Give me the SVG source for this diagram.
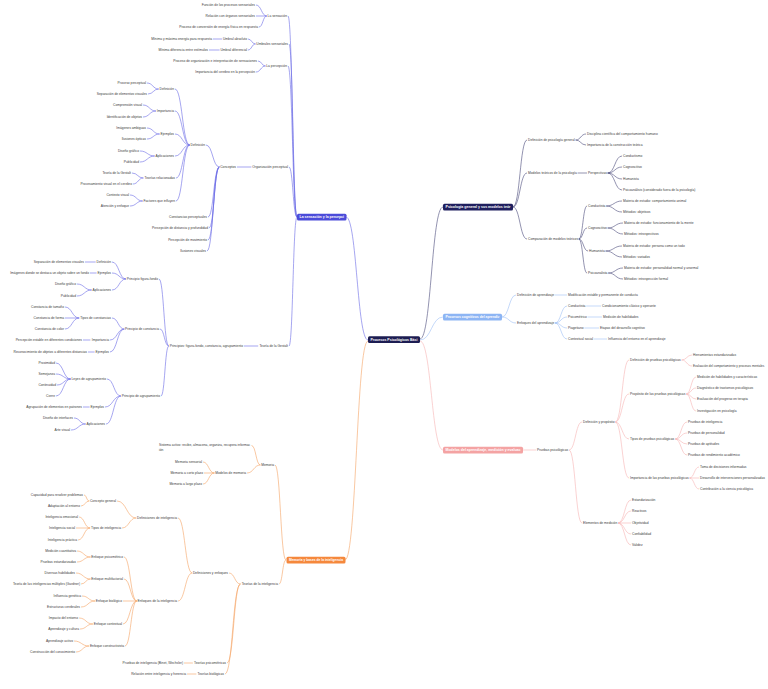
<svg xmlns="http://www.w3.org/2000/svg" width="768" height="689" viewBox="0 0 768 689">
<style>
.t{font-family:"Liberation Sans",Arial,sans-serif;font-size:3.3px;fill:#3a3a3a}
.e{text-anchor:end}
.sm{font-size:3.05px}
.bt{font-family:"Liberation Sans",Arial,sans-serif;font-size:3.5px;font-weight:bold;fill:#ffffff}
.cb{stroke:#6a6ae6}.cn{stroke:#4a4a7a}.cl{stroke:#9dc0f5}.cp{stroke:#f7b3b3}.co{stroke:#f5a263}
</style>
<rect width="768" height="689" fill="#ffffff"/>
<g id="connectors" fill="none" stroke-width="0.6">
<g class="cb">
<path d="M368 340C357 340 357 217 346 217"/>
<path d="M297 217C292.5 217 292.5 16 288 16"/>
<path d="M297 217C293 217 293 44 289 44"/>
<path d="M297 217C292.5 217 292.5 66 288 66"/>
<path d="M297 217C293 217 293 167 289 167"/>
<path d="M297 217C293 217 293 346 289 346"/>
<path d="M266.8 16C261.4 16 261.4 5 256 5"/>
<path d="M266.8 16H256"/>
<path d="M266.8 16C262.9 16 262.9 27 259 27"/>
<path d="M255.5 44C251.75 44 251.75 39 248 39"/>
<path d="M255.5 44C251.75 44 251.75 50 248 50"/>
<path d="M222.2 39H213"/>
<path d="M219.6 50H209"/>
<path d="M265.5 66C261.75 66 261.75 61 258 61"/>
<path d="M265.5 66C260.75 66 260.75 72 256 72"/>
<path d="M251.4 167H237"/>
<path d="M219.4 167C212.7 167 212.7 145 206 145"/>
<path d="M219.4 167C213.7 167 213.7 217 208 217"/>
<path d="M219.4 167C214.2 167 214.2 228 209 228"/>
<path d="M219.4 167C213.7 167 213.7 240 208 240"/>
<path d="M219.4 167C213.2 167 213.2 251 207 251"/>
<path d="M189.7 145C182.35 145 182.35 89 175 89"/>
<path d="M189.7 145C182.35 145 182.35 111 175 111"/>
<path d="M189.7 145C182.35 145 182.35 134 175 134"/>
<path d="M189.7 145C182.35 145 182.35 156 175 156"/>
<path d="M189.7 145C182.85 145 182.85 178 176 178"/>
<path d="M189.7 145C182.85 145 182.85 201 176 201"/>
<path d="M158.7 89C152.85 89 152.85 83 147 83"/>
<path d="M158.7 89C153.35 89 153.35 94 148 94"/>
<path d="M156 111C149.5 111 149.5 105 143 105"/>
<path d="M156 111C149.5 111 149.5 117 143 117"/>
<path d="M159.6 134C153.3 134 153.3 128 147 128"/>
<path d="M159.6 134C153.3 134 153.3 139 147 139"/>
<path d="M154.7 156C147.35 156 147.35 151 140 151"/>
<path d="M154.7 156C147.35 156 147.35 162 140 162"/>
<path d="M143.4 178C137.7 178 137.7 173 132 173"/>
<path d="M143.4 178C138.2 178 138.2 184 133 184"/>
<path d="M142.7 201C136.35 201 136.35 195 130 195"/>
<path d="M142.7 201C136.35 201 136.35 206 130 206"/>
<path d="M258.2 346H244"/>
<path d="M168.8 346C163.9 346 163.9 279 159 279"/>
<path d="M168.8 346C164.4 346 164.4 329 160 329"/>
<path d="M168.8 346C164.9 346 164.9 396 161 396"/>
<path d="M126 279C119 279 119 262 112 262"/>
<path d="M126 279C119 279 119 273 112 273"/>
<path d="M126 279C119 279 119 290 112 290"/>
<path d="M95.7 262H85"/>
<path d="M96.6 273H90"/>
<path d="M91.7 290C84.35 290 84.35 284 77 284"/>
<path d="M91.7 290C84.35 290 84.35 296 77 296"/>
<path d="M124.3 329C118.15 329 118.15 318 112 318"/>
<path d="M124.3 329C117.15 329 117.15 340 110 340"/>
<path d="M124.3 329C117.15 329 117.15 352 110 352"/>
<path d="M79.2 318C72.1 318 72.1 307 65 307"/>
<path d="M79.2 318H65"/>
<path d="M79.2 318C72.1 318 72.1 329 65 329"/>
<path d="M90.4 340H83"/>
<path d="M94.6 352H88"/>
<path d="M120.9 396C113.95 396 113.95 379 107 379"/>
<path d="M120.9 396C112.95 396 112.95 407 105 407"/>
<path d="M120.9 396C113.45 396 113.45 424 106 424"/>
<path d="M70.7 379C63.35 379 63.35 363 56 363"/>
<path d="M70.7 379C63.35 379 63.35 374 56 374"/>
<path d="M70.7 379C63.85 379 63.85 385 57 385"/>
<path d="M70.7 379C63.35 379 63.35 396 56 396"/>
<path d="M89.6 407H83"/>
<path d="M85.7 424C79.85 424 79.85 418 74 418"/>
<path d="M85.7 424C78.35 424 78.35 430 71 430"/>
</g>
<g class="co">
<path d="M368 341C356.5 341 356.5 560 345 560"/>
<path d="M286 560C280.5 560 280.5 465 275 465"/>
<path d="M286 560C282.5 560 282.5 584 279 584"/>
<path d="M260.4 465C255.95 465 255.95 445.5 251.5 445.5"/>
<path d="M260.4 465C253.7 465 253.7 473 247 473"/>
<path d="M214.4 473C208.7 473 208.7 462 203 462"/>
<path d="M214.4 473H204"/>
<path d="M214.4 473C208.7 473 208.7 484 203 484"/>
<path d="M240.5 584C234.75 584 234.75 573 229 573"/>
<path d="M240.5 584C233.75 584 233.75 663 227 663"/>
<path d="M240.5 584C232.75 584 232.75 674 225 674"/>
<path d="M192.2 573C185.1 573 185.1 518 178 518"/>
<path d="M192.2 573C185.1 573 185.1 601 178 601"/>
<path d="M192.9 663H184"/>
<path d="M196.4 674H187"/>
<path d="M136.2 518C126.6 518 126.6 501 117 501"/>
<path d="M136.2 518C129.1 518 129.1 528 122 528"/>
<path d="M89.2 501C86.6 501 86.6 495 84 495"/>
<path d="M89.2 501C85.1 501 85.1 506 81 506"/>
<path d="M90.1 528C84.55 528 84.55 517 79 517"/>
<path d="M90.1 528H76"/>
<path d="M90.1 528C84.05 528 84.05 540 78 540"/>
<path d="M136.8 601C130.4 601 130.4 557 124 557"/>
<path d="M136.8 601C130.4 601 130.4 579 124 579"/>
<path d="M136.8 601H123"/>
<path d="M136.8 601C129.9 601 129.9 624 123 624"/>
<path d="M136.8 601C130.9 601 130.9 646 125 646"/>
<path d="M90.5 557C83.75 557 83.75 551 77 551"/>
<path d="M90.5 557C83.75 557 83.75 562 77 562"/>
<path d="M90.5 579C83.25 579 83.25 573 76 573"/>
<path d="M90.5 579C85.75 579 85.75 584 81 584"/>
<path d="M95 601C88.5 601 88.5 596 82 596"/>
<path d="M95 601C88 601 88 607 81 607"/>
<path d="M92.9 624C85.95 624 85.95 618 79 618"/>
<path d="M92.9 624C86.45 624 86.45 629 80 629"/>
<path d="M89.1 646C81.55 646 81.55 641 74 641"/>
<path d="M89.1 646C82.55 646 82.55 652 76 652"/>
</g>
<g class="cn">
<path d="M420 339C431.5 339 431.5 207 443 207"/>
<path d="M513 207C520 207 520 140 527 140"/>
<path d="M513 207C520 207 520 173 527 173"/>
<path d="M513 207C520 207 520 239 527 239"/>
<path d="M575.6 140C580.8 140 580.8 134 586 134"/>
<path d="M575.6 140C580.8 140 580.8 145 586 145"/>
<path d="M577.6 173H587"/>
<path d="M607.7 173C614.85 173 614.85 156 622 156"/>
<path d="M607.7 173C614.85 173 614.85 167 622 167"/>
<path d="M607.7 173C614.85 173 614.85 179 622 179"/>
<path d="M607.7 173C614.85 173 614.85 190 622 190"/>
<path d="M578.8 239C582.9 239 582.9 206 587 206"/>
<path d="M578.8 239C582.9 239 582.9 228 587 228"/>
<path d="M578.8 239C583.4 239 583.4 251 588 251"/>
<path d="M578.8 239C582.9 239 582.9 273 587 273"/>
<path d="M606.2 206C614.1 206 614.1 201 622 201"/>
<path d="M606.2 206C614.1 206 614.1 212 622 212"/>
<path d="M607.7 228C615.35 228 615.35 223 623 223"/>
<path d="M607.7 228C615.35 228 615.35 234 623 234"/>
<path d="M605.6 251C613.8 251 613.8 246 622 246"/>
<path d="M605.6 251C613.8 251 613.8 257 622 257"/>
<path d="M608.2 273C615.6 273 615.6 268 623 268"/>
<path d="M608.2 273C615.6 273 615.6 279 623 279"/>
</g>
<g class="cl">
<path d="M420 340C431.5 340 431.5 317 443 317"/>
<path d="M502 317C509 317 509 295 516 295"/>
<path d="M502 317C509 317 509 323 516 323"/>
<path d="M554.8 295H567"/>
<path d="M555 323C561 323 561 306 567 306"/>
<path d="M555 323C561 323 561 317 567 317"/>
<path d="M555 323C561 323 561 328 567 328"/>
<path d="M555 323C561 323 561 339 567 339"/>
<path d="M586.2 306H601"/>
<path d="M587.7 317H602"/>
<path d="M584.4 328H599"/>
<path d="M593.9 339H607"/>
</g>
<g class="cp">
<path d="M420 341C431.5 341 431.5 450 443 450"/>
<path d="M523 450H536"/>
<path d="M569 450C575.5 450 575.5 422 582 422"/>
<path d="M569 450C575.5 450 575.5 523 582 523"/>
<path d="M615.3 422C622.15 422 622.15 360 629 360"/>
<path d="M615.3 422C622.15 422 622.15 394 629 394"/>
<path d="M615.3 422C622.15 422 622.15 439 629 439"/>
<path d="M615.3 422C622.15 422 622.15 478 629 478"/>
<path d="M681.6 360C686.8 360 686.8 355 692 355"/>
<path d="M681.6 360C686.8 360 686.8 366 692 366"/>
<path d="M686.2 394C691.1 394 691.1 377 696 377"/>
<path d="M686.2 394C691.1 394 691.1 388 696 388"/>
<path d="M686.2 394C691.1 394 691.1 399 696 399"/>
<path d="M686.2 394C691.1 394 691.1 411 696 411"/>
<path d="M675.2 439C681.1 439 681.1 422 687 422"/>
<path d="M675.2 439C681.1 439 681.1 433 687 433"/>
<path d="M675.2 439C681.1 439 681.1 444 687 444"/>
<path d="M675.2 439C681.1 439 681.1 455 687 455"/>
<path d="M689.5 478C694.25 478 694.25 467 699 467"/>
<path d="M689.5 478H699"/>
<path d="M689.5 478C694.25 478 694.25 489 699 489"/>
<path d="M618.1 523C624.55 523 624.55 500 631 500"/>
<path d="M618.1 523C624.55 523 624.55 511 631 511"/>
<path d="M618.1 523H631"/>
<path d="M618.1 523C624.55 523 624.55 534 631 534"/>
<path d="M618.1 523C624.55 523 624.55 545 631 545"/>
</g>
</g>
<g id="root"><rect x="368" y="336.3" width="52" height="6.6" rx="1.5" fill="#1d1d52"/><text class="bt" x="370.5" y="340.9" textLength="47" lengthAdjust="spacingAndGlyphs">Procesos Psicológicos Bási</text></g>
<g id="b-main"><rect x="297" y="213.8" width="49.5" height="6.6" rx="1.5" fill="#4b4bd9"/><text class="bt" x="299.5" y="218.4" textLength="44.5" lengthAdjust="spacingAndGlyphs">La sensación y la percepci</text></g>
<g id="n-main"><rect x="443" y="203.8" width="70" height="6.6" rx="1.5" fill="#1f1f5e"/><text class="bt" x="445.5" y="208.4" textLength="65" lengthAdjust="spacingAndGlyphs">Psicología general y sus modelos teór</text></g>
<g id="l-main"><rect x="443" y="313.8" width="59" height="6.6" rx="1.5" fill="#8db5f4"/><text class="bt" x="445.5" y="318.4" textLength="54" lengthAdjust="spacingAndGlyphs">Procesos cognitivos del aprendiz</text></g>
<g id="p-main"><rect x="443" y="446.8" width="80" height="6.6" rx="1.5" fill="#f4a3a3"/><text class="bt" x="445.5" y="451.4" textLength="75" lengthAdjust="spacingAndGlyphs">Modelos del aprendizaje, medición y evaluac</text></g>
<g id="o-main"><rect x="286.5" y="556.8" width="59" height="6.6" rx="1.5" fill="#f5883c"/><text class="bt" x="289" y="561.4" textLength="54" lengthAdjust="spacingAndGlyphs">Memoria y bases de la inteligencia</text></g>
<g id="b1"><text class="t e" x="287" y="17.15">La sensación</text></g>
<g id="b2"><text class="t e" x="288" y="45.15">Umbrales sensoriales</text></g>
<g id="b3"><text class="t e" x="287" y="67.15">La percepción</text></g>
<g id="b4"><text class="t e" x="288" y="168.15">Organización perceptual</text></g>
<g id="b5"><text class="t e" x="288" y="347.15">Teoría de la Gestalt</text></g>
<g id="b1a"><text class="t e" x="255" y="6.15">Función de los procesos sensoriales</text></g>
<g id="b1b"><text class="t e" x="255" y="17.15">Relación con órganos sensoriales</text></g>
<g id="b1c"><text class="t e" x="258" y="28.15">Proceso de conversión de energía física en respuesta</text></g>
<g id="b2a"><text class="t e" x="247" y="40.15">Umbral absoluto</text></g>
<g id="b2a1"><text class="t e" x="212" y="40.15">Mínima y máxima energía para respuesta</text></g>
<g id="b2b"><text class="t e" x="247" y="51.15">Umbral diferencial</text></g>
<g id="b2b1"><text class="t e" x="208" y="51.15">Mínima diferencia entre estímulos</text></g>
<g id="b3a"><text class="t e" x="257" y="62.15">Proceso de organización e interpretación de sensaciones</text></g>
<g id="b3b"><text class="t e" x="255" y="73.15">Importancia del cerebro en la percepción</text></g>
<g id="b4a"><text class="t e" x="236" y="168.15">Conceptos</text></g>
<g id="b4a1"><text class="t e" x="205" y="146.15">Definición</text></g>
<g id="b4a2"><text class="t e" x="207" y="218.15">Constancias perceptuales</text></g>
<g id="b4a3"><text class="t e" x="208" y="229.15">Percepción de distancia y profundidad</text></g>
<g id="b4a4"><text class="t e" x="207" y="241.15">Percepción de movimiento</text></g>
<g id="b4a5"><text class="t e" x="206" y="252.15">Ilusiones visuales</text></g>
<g id="d1"><text class="t e" x="174" y="90.15">Definición</text></g>
<g id="d1a"><text class="t e" x="146" y="84.15">Proceso perceptual</text></g>
<g id="d1b"><text class="t e" x="147" y="95.15">Separación de elementos visuales</text></g>
<g id="d2"><text class="t e" x="174" y="112.15">Importancia</text></g>
<g id="d2a"><text class="t e" x="142" y="106.15">Comprensión visual</text></g>
<g id="d2b"><text class="t e" x="142" y="118.15">Identificación de objetos</text></g>
<g id="d3"><text class="t e" x="174" y="135.15">Ejemplos</text></g>
<g id="d3a"><text class="t e" x="146" y="129.15">Imágenes ambiguas</text></g>
<g id="d3b"><text class="t e" x="146" y="140.15">Ilusiones ópticas</text></g>
<g id="d4"><text class="t e" x="174" y="157.15">Aplicaciones</text></g>
<g id="d4a"><text class="t e" x="139" y="152.15">Diseño gráfico</text></g>
<g id="d4b"><text class="t e" x="139" y="163.15">Publicidad</text></g>
<g id="d5"><text class="t e" x="175" y="179.15">Teorías relacionadas</text></g>
<g id="d5a"><text class="t e" x="131" y="174.15">Teoría de la Gestalt</text></g>
<g id="d5b"><text class="t e" x="132" y="185.15">Procesamiento visual en el cerebro</text></g>
<g id="d6"><text class="t e" x="175" y="202.15">Factores que influyen</text></g>
<g id="d6a"><text class="t e" x="129" y="196.15">Contexto visual</text></g>
<g id="d6b"><text class="t e" x="129" y="207.15">Atención y enfoque</text></g>
<g id="g1"><text class="t e" x="243" y="347.15">Principios: figura-fondo, constancia, agrupamiento</text></g>
<g id="g2"><text class="t e" x="158" y="280.15">Principio figura-fondo</text></g>
<g id="g2a"><text class="t e" x="111" y="263.15">Definición</text></g>
<g id="g2a1"><text class="t e" x="84" y="263.15">Separación de elementos visuales</text></g>
<g id="g2b"><text class="t e" x="111" y="274.15">Ejemplos</text></g>
<g id="g2b1"><text class="t e" x="89" y="274.15">Imágenes donde se destaca un objeto sobre un fondo</text></g>
<g id="g2c"><text class="t e" x="111" y="291.15">Aplicaciones</text></g>
<g id="g2c1"><text class="t e" x="76" y="285.15">Diseño gráfico</text></g>
<g id="g2c2"><text class="t e" x="76" y="297.15">Publicidad</text></g>
<g id="g3"><text class="t e" x="159" y="330.15">Principio de constancia</text></g>
<g id="g3a"><text class="t e" x="111" y="319.15">Tipos de constancias</text></g>
<g id="g3a1"><text class="t e" x="64" y="308.15">Constancia de tamaño</text></g>
<g id="g3a2"><text class="t e" x="64" y="319.15">Constancia de forma</text></g>
<g id="g3a3"><text class="t e" x="64" y="330.15">Constancia de color</text></g>
<g id="g3b"><text class="t e" x="109" y="341.15">Importancia</text></g>
<g id="g3b1"><text class="t e" x="82" y="341.15">Percepción estable en diferentes condiciones</text></g>
<g id="g3c"><text class="t e" x="109" y="353.15">Ejemplos</text></g>
<g id="g3c1"><text class="t e" x="87" y="353.15">Reconocimiento de objetos a diferentes distancias</text></g>
<g id="g4"><text class="t e" x="160" y="397.15">Principio de agrupamiento</text></g>
<g id="g4a"><text class="t e" x="106" y="380.15">Leyes de agrupamiento</text></g>
<g id="g4a1"><text class="t e" x="55" y="364.15">Proximidad</text></g>
<g id="g4a2"><text class="t e" x="55" y="375.15">Semejanza</text></g>
<g id="g4a3"><text class="t e" x="56" y="386.15">Continuidad</text></g>
<g id="g4a4"><text class="t e" x="55" y="397.15">Cierre</text></g>
<g id="g4b"><text class="t e" x="104" y="408.15">Ejemplos</text></g>
<g id="g4b1"><text class="t e" x="82" y="408.15">Agrupación de elementos en patrones</text></g>
<g id="g4c"><text class="t e" x="105" y="425.15">Aplicaciones</text></g>
<g id="g4c1"><text class="t e" x="73" y="419.15">Diseño de interfaces</text></g>
<g id="g4c2"><text class="t e" x="70" y="431.15">Arte visual</text></g>
<g id="o1"><text class="t e" x="274" y="466.15">Memoria</text></g>
<g id="o1a"><text class="t" x="159" y="446.15">Sistema activo: recibe, almacena, organiza, recupera informac<tspan x="159" dy="5">ión</tspan></text></g>
<g id="o1b"><text class="t e" x="246" y="474.15">Modelos de memoria</text></g>
<g id="o1b1"><text class="t e" x="202" y="463.15">Memoria sensorial</text></g>
<g id="o1b2"><text class="t e" x="203" y="474.15">Memoria a corto plazo</text></g>
<g id="o1b3"><text class="t e" x="202" y="485.15">Memoria a largo plazo</text></g>
<g id="o2"><text class="t e" x="278" y="585.15">Teorías de la inteligencia</text></g>
<g id="o2a"><text class="t e" x="228" y="574.15">Definiciones y enfoques</text></g>
<g id="o2b"><text class="t e" x="226" y="664.15">Teorías psicométricas</text></g>
<g id="o2b1"><text class="t e" x="183" y="664.15">Pruebas de inteligencia (Binet, Wechsler)</text></g>
<g id="o2c"><text class="t e" x="224" y="675.15">Teorías biológicas</text></g>
<g id="o2c1"><text class="t e" x="186" y="675.15">Relación entre inteligencia y herencia</text></g>
<g id="i1"><text class="t e" x="177" y="519.15">Definiciones de inteligencia</text></g>
<g id="i1a"><text class="t e" x="116" y="502.15">Concepto general</text></g>
<g id="i1a1"><text class="t e" x="83" y="496.15">Capacidad para resolver problemas</text></g>
<g id="i1a2"><text class="t e" x="80" y="507.15">Adaptación al entorno</text></g>
<g id="i1b"><text class="t e" x="121" y="529.15">Tipos de inteligencia</text></g>
<g id="i1b1"><text class="t e" x="78" y="518.15">Inteligencia emocional</text></g>
<g id="i1b2"><text class="t e" x="75" y="529.15">Inteligencia social</text></g>
<g id="i1b3"><text class="t e" x="77" y="541.15">Inteligencia práctica</text></g>
<g id="i2"><text class="t e" x="177" y="602.15">Enfoques de la inteligencia</text></g>
<g id="i2a"><text class="t e" x="123" y="558.15">Enfoque psicométrico</text></g>
<g id="i2a1"><text class="t e" x="76" y="552.15">Medición cuantitativa</text></g>
<g id="i2a2"><text class="t e" x="76" y="563.15">Pruebas estandarizadas</text></g>
<g id="i2b"><text class="t e" x="123" y="580.15">Enfoque multifactorial</text></g>
<g id="i2b1"><text class="t e" x="75" y="574.15">Diversas habilidades</text></g>
<g id="i2b2"><text class="t e" x="80" y="585.15">Teoría de las inteligencias múltiples (Gardner)</text></g>
<g id="i2c"><text class="t e" x="122" y="602.15">Enfoque biológico</text></g>
<g id="i2c1"><text class="t e" x="81" y="597.15">Influencia genética</text></g>
<g id="i2c2"><text class="t e" x="80" y="608.15">Estructuras cerebrales</text></g>
<g id="i2d"><text class="t e" x="122" y="625.15">Enfoque contextual</text></g>
<g id="i2d1"><text class="t e" x="78" y="619.15">Impacto del entorno</text></g>
<g id="i2d2"><text class="t e" x="79" y="630.15">Aprendizaje y cultura</text></g>
<g id="i2e"><text class="t e" x="124" y="647.15">Enfoque constructivista</text></g>
<g id="i2e1"><text class="t e" x="73" y="642.15">Aprendizaje activo</text></g>
<g id="i2e2"><text class="t e" x="75" y="653.15">Construcción del conocimiento</text></g>
<g id="n1"><text class="t" x="528" y="141.15">Definición de psicología general</text></g>
<g id="n1a"><text class="t" x="587" y="135.15">Disciplina científica del comportamiento humano</text></g>
<g id="n1b"><text class="t" x="587" y="146.15">Importancia de la construcción teórica</text></g>
<g id="n2"><text class="t" x="528" y="174.15">Modelos teóricos de la psicología</text></g>
<g id="n2a"><text class="t" x="588" y="174.15">Perspectivas</text></g>
<g id="n2a1"><text class="t" x="623" y="157.15">Conductismo</text></g>
<g id="n2a2"><text class="t" x="623" y="168.15">Cognoscitivo</text></g>
<g id="n2a3"><text class="t" x="623" y="180.15">Humanista</text></g>
<g id="n2a4"><text class="t" x="623" y="191.15">Psicoanálisis (considerado fuera de la psicología)</text></g>
<g id="n3"><text class="t" x="528" y="240.15">Comparación de modelos teóricos</text></g>
<g id="n3a"><text class="t" x="588" y="207.15">Conductista</text></g>
<g id="n3a1"><text class="t" x="623" y="202.15">Materia de estudio: comportamiento animal</text></g>
<g id="n3a2"><text class="t" x="623" y="213.15">Métodos: objetivos</text></g>
<g id="n3b"><text class="t" x="588" y="229.15">Cognoscitivo</text></g>
<g id="n3b1"><text class="t" x="624" y="224.15">Materia de estudio: funcionamiento de la mente</text></g>
<g id="n3b2"><text class="t" x="624" y="235.15">Métodos: introspectivos</text></g>
<g id="n3c"><text class="t" x="589" y="252.15">Humanista</text></g>
<g id="n3c1"><text class="t" x="623" y="247.15">Materia de estudio: persona como un todo</text></g>
<g id="n3c2"><text class="t" x="623" y="258.15">Métodos: variados</text></g>
<g id="n3d"><text class="t" x="588" y="274.15">Psicoanalista</text></g>
<g id="n3d1"><text class="t" x="624" y="269.15">Materia de estudio: personalidad normal y anormal</text></g>
<g id="n3d2"><text class="t" x="624" y="280.15">Métodos: introspección formal</text></g>
<g id="l1"><text class="t" x="517" y="296.15">Definición de aprendizaje</text></g>
<g id="l1a"><text class="t" x="568" y="296.15">Modificación estable y permanente de conducta</text></g>
<g id="l2"><text class="t" x="517" y="324.15">Enfoques del aprendizaje</text></g>
<g id="l2a"><text class="t" x="568" y="307.15">Conductista</text></g>
<g id="l2a1"><text class="t" x="602" y="307.15">Condicionamiento clásico y operante</text></g>
<g id="l2b"><text class="t" x="568" y="318.15">Psicométrico</text></g>
<g id="l2b1"><text class="t" x="603" y="318.15">Medición de habilidades</text></g>
<g id="l2c"><text class="t" x="568" y="329.15">Piagetiano</text></g>
<g id="l2c1"><text class="t" x="600" y="329.15">Etapas del desarrollo cognitivo</text></g>
<g id="l2d"><text class="t" x="568" y="340.15">Contextual social</text></g>
<g id="l2d1"><text class="t" x="608" y="340.15">Influencia del entorno en el aprendizaje</text></g>
<g id="p1"><text class="t" x="537" y="451.15">Pruebas psicológicas</text></g>
<g id="p1a"><text class="t" x="583" y="423.15">Definición y propósito</text></g>
<g id="p1a1"><text class="t" x="630" y="361.15">Definición de pruebas psicológicas</text></g>
<g id="p1a1a"><text class="t" x="693" y="356.15">Herramientas estandarizadas</text></g>
<g id="p1a1b"><text class="t sm" x="693" y="367.1">Evaluación del comportamiento y procesos mentales</text></g>
<g id="p1a2"><text class="t" x="630" y="395.15">Propósito de las pruebas psicológicas</text></g>
<g id="p1a2a"><text class="t" x="697" y="378.15">Medición de habilidades y características</text></g>
<g id="p1a2b"><text class="t" x="697" y="389.15">Diagnóstico de trastornos psicológicos</text></g>
<g id="p1a2c"><text class="t" x="697" y="400.15">Evaluación del progreso en terapia</text></g>
<g id="p1a2d"><text class="t" x="697" y="412.15">Investigación en psicología</text></g>
<g id="p1a3"><text class="t" x="630" y="440.15">Tipos de pruebas psicológicas</text></g>
<g id="p1a3a"><text class="t" x="688" y="423.15">Pruebas de inteligencia</text></g>
<g id="p1a3b"><text class="t" x="688" y="434.15">Pruebas de personalidad</text></g>
<g id="p1a3c"><text class="t" x="688" y="445.15">Pruebas de aptitudes</text></g>
<g id="p1a3d"><text class="t" x="688" y="456.15">Pruebas de rendimiento académico</text></g>
<g id="p1a4"><text class="t" x="630" y="479.15">Importancia de las pruebas psicológicas</text></g>
<g id="p1a4a"><text class="t" x="700" y="468.15">Toma de decisiones informadas</text></g>
<g id="p1a4b"><text class="t" x="700" y="479.15">Desarrollo de intervenciones personalizadas</text></g>
<g id="p1a4c"><text class="t" x="700" y="490.15">Contribución a la ciencia psicológica</text></g>
<g id="p1b"><text class="t" x="583" y="524.15">Elementos de medición</text></g>
<g id="p1b1"><text class="t" x="632" y="501.15">Estandarización</text></g>
<g id="p1b2"><text class="t" x="632" y="512.15">Reactivos</text></g>
<g id="p1b3"><text class="t" x="632" y="524.15">Objetividad</text></g>
<g id="p1b4"><text class="t" x="632" y="535.15">Confiabilidad</text></g>
<g id="p1b5"><text class="t" x="632" y="546.15">Validez</text></g>
</svg>
